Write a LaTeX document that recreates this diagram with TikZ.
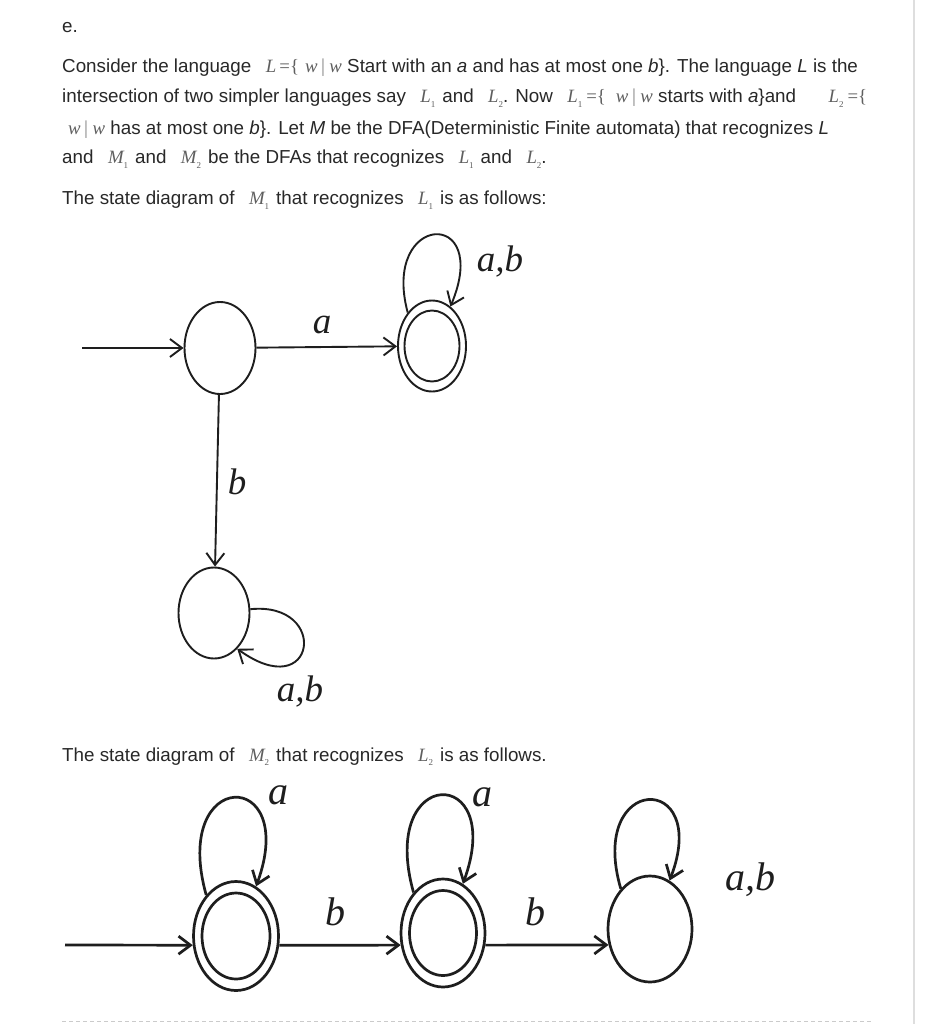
\documentclass[tikz,border=0pt]{standalone}
\usepackage{fontspec}
\setmainfont{Liberation Sans}
\newfontfamily\serifmath{Liberation Serif}
\usepackage{xcolor}
\usepackage{tikz}
\usetikzlibrary{arrows.meta,shapes.geometric}
\definecolor{BodyText}{RGB}{40,40,40}
\definecolor{MathGray}{RGB}{95,95,95}
\definecolor{BarGray}{RGB}{175,175,175}
\definecolor{RuleGray}{RGB}{222,222,222}
\definecolor{InkGray}{RGB}{30,30,30}

\newcommand{\mv}[1]{{\serifmath\itshape\color{MathGray}#1}}
\newcommand{\mrel}[1]{{\serifmath\color{MathGray}#1}}
\newcommand{\idx}[1]{\raisebox{-0.45ex}{\serifmath\fontsize{9}{9}\selectfont\color{MathGray}#1}\hspace{7pt}}
\newcommand{\sym}[2]{\hspace{4pt}\mv{#1}\idx{#2}}
\newcommand{\wbw}{\hspace{6pt}\mv{w}\hspace{3pt}{\color{BarGray}|}\hspace{4pt}\mv{w}}

\begin{document}
\begin{tikzpicture}[x=1pt, y=-1pt,
    txt/.style={anchor=base west, inner sep=0, font=\fontsize{18.8}{22}\selectfont, text=BodyText},
    lbl/.style={inner sep=0, font=\serifmath\itshape\fontsize{37}{37}\selectfont, text=InkGray},
    big lbl/.style={lbl, font=\serifmath\itshape\fontsize{40}{40}\selectfont},
    st/.style={ellipse, draw=InkGray, inner sep=0},
    arr/.style={-{Straight Barb[length=12pt, width=18pt]}, draw=InkGray}
]
\useasboundingbox[fill=white] (0,0) rectangle (935,1024);

% page frame
\draw[RuleGray, line width=1.5pt] (914,0) -- (914,1024);
\draw[RuleGray!80!gray, line width=1pt, dash pattern=on 4pt off 3pt] (62,1021) -- (872,1021);

% question text
\node[txt] (t0) at (62,33) {e.};
\node[txt] (t1) at (62,73) {Consider the language \ \hspace{4pt}\mv{L}\,\mrel{=\{}\wbw\ Start with an \textit{a} and has at most one \textit{b}\}. The language \textit{L} is the};
\node[txt] (t2) at (62,103) {intersection of two simpler languages say \ \sym{L}{1}and \ \sym{L}{2}\hspace{-7pt}. Now \ \sym{L}{1}\hspace{-3pt}\mrel{=\{}\hspace{4pt}\wbw\ starts with \textit{a}\}and \ \hspace{18pt}\sym{L}{2}\hspace{-3pt}\mrel{=\{}};
\node[txt] (t3) at (62,135) {\wbw\ has at most one \textit{b}\}. Let \textit{M} be the DFA(Deterministic Finite automata) that recognizes \textit{L}};
\node[txt] (t4) at (62,164) {and \ \sym{M}{1}and \ \sym{M}{2}be the DFAs that recognizes \ \sym{L}{1}and \ \sym{L}{2}\hspace{-7pt}.};
\node[txt] (t5) at (62,205) {The state diagram of \ \sym{M}{1}that recognizes \ \sym{L}{1}is as follows:};
\node[txt] (t6) at (62,761) {The state diagram of \ \sym{M}{2}that recognizes \ \sym{L}{2}is as follows.};

% M1
\begin{scope}[line width=1.9pt]
\node[st, minimum width=71pt, minimum height=92pt] (q0) at (220,348) {};
\node[st, minimum width=68pt, minimum height=91pt] (q1) at (432,346) {};
\node[st, minimum width=55pt, minimum height=71pt] (q1in) at (432,346) {};
\node[st, minimum width=71pt, minimum height=91pt] (q2) at (214,613) {};
\coordinate (in1) at (82,348);

\draw[arr] (in1) -- (q0);
\draw[arr] (q0) -- (q1);
\draw[arr] (q1.126) .. controls +(-27,-100) and +(42,-100) .. (q1.65);
\draw[arr] (q0) -- (q2);
\draw[arr] (q2.6) .. controls +(80,-8) and +(79,57) .. (q2.-57);

\node[lbl] (la1) at (322,325) {a};
\node[lbl] (lab1) at (500,262) {a,b};
\node[lbl] (lb1) at (237,482) {b};
\node[lbl] (lab2) at (300,692) {a,b};
\end{scope}

% M2
\begin{scope}[line width=2.7pt]
\node[st, minimum width=85pt, minimum height=109pt] (p0) at (236,936) {};
\node[st, minimum width=68pt, minimum height=86pt] (p0in) at (236,936) {};
\node[st, minimum width=84pt, minimum height=108pt] (p1) at (443,933) {};
\node[st, minimum width=67pt, minimum height=85pt] (p1in) at (443,933) {};
\node[st, minimum width=84pt, minimum height=106pt] (p2) at (650,929) {};
\coordinate (in2) at (65,945);

\draw[arr] (in2) -- (p0.192);
\draw[arr] (p0.-12) -- (p1.196);
\draw[arr] (p1.-16) -- (p2.201);
\draw[arr] (p0.126) .. controls +(-36,-128) and +(44,-120) .. (p0.68);
\draw[arr] (p1.126) .. controls +(-36,-128) and +(44,-120) .. (p1.68);
\draw[arr] (p2.126) .. controls +(-34,-116) and +(42,-110) .. (p2.68);

\node[big lbl] (la2) at (278,795) {a};
\node[big lbl] (la3) at (482,797) {a};
\node[big lbl] (lb2) at (335,912) {b};
\node[big lbl] (lb3) at (535,912) {b};
\node[big lbl] (lab3) at (750,880) {a,b};
\end{scope}
\end{tikzpicture}
\end{document}
